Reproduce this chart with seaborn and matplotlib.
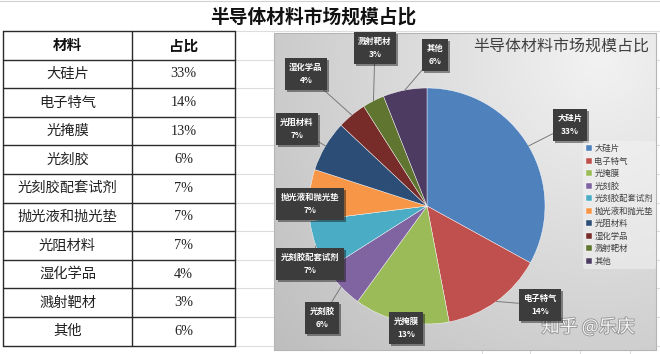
import numpy as np
import matplotlib
matplotlib.use("Agg")
import matplotlib.pyplot as plt
import matplotlib.patheffects as pe
import seaborn as sns

sns.set_theme(style="white")
plt.rcParams['font.family'] = ['Noto Sans CJK SC', 'DejaVu Sans']

# ---------------- data ----------------
title = "半导体材料市场规模占比"
headers = ["材料", "占比"]
materials = ["大硅片", "电子特气", "光掩膜", "光刻胶", "光刻胶配套试剂",
             "抛光液和抛光垫", "光阻材料", "湿化学品", "溅射靶材", "其他"]
shares = [33, 14, 13, 6, 7, 7, 7, 4, 3, 6]
share_labels = [f"{v}%" for v in shares]
watermark = "知乎 @乐庆"

# ---------------- styles / layout ----------------
colors = ["#4F81BD", "#C0504D", "#9BBB59", "#8064A2", "#4BACC6",
          "#F79646", "#2C4D75", "#772C2A", "#5F7530", "#4D3B62"]
# label box centres in pixel coordinates (x, y from top)
label_pos = [(570, 125), (540, 305), (406, 328), (322, 318), (310, 264),
             (310, 204), (297, 129), (306, 74), (375, 48), (435, 55)]

W, H = 660, 354
fig = plt.figure(figsize=(W / 100, H / 100), dpi=100)
fig.patch.set_facecolor("white")

ov = fig.add_axes([0, 0, 1, 1])
ov.set_xlim(0, W)
ov.set_ylim(H, 0)
ov.axis("off")

# faint spreadsheet grid
row_top, row_h = 31, 28.6
n_rows = len(materials) + 1
for i in range(n_rows + 1):
    y = row_top + i * row_h
    ov.plot([235, W], [y, y], color="#dcdcdc", lw=0.8, zorder=0)
for x in [482, 530, 580, 630]:
    ov.plot([x, x], [340, H], color="#dcdcdc", lw=0.8, zorder=0)
ov.plot([0, W], [1, 1], color="#d0d0d0", lw=0.8, zorder=0)

# page title
ov.text(313, 17, title, ha="center", va="center", fontsize=13.5,
        fontweight="bold", color="#111111")

# table
x_left, x_mid, x_right = 3, 132, 235
y_bot = row_top + n_rows * row_h
for i in range(n_rows + 1):
    y = row_top + i * row_h
    ov.plot([x_left, x_right], [y, y], color="#2a2a2a", lw=1.0, zorder=2)
for x in [x_left, x_mid, x_right]:
    ov.plot([x, x], [row_top, y_bot], color="#2a2a2a", lw=1.0, zorder=2)
ov.text((x_left + x_mid) / 2, row_top + row_h / 2, headers[0], ha="center",
        va="center", fontsize=10.5, fontweight="bold", color="#111111")
ov.text((x_mid + x_right) / 2, row_top + row_h / 2, headers[1], ha="center",
        va="center", fontsize=10.5, fontweight="bold", color="#111111")
for i, (m, s) in enumerate(zip(materials, share_labels)):
    yc = row_top + (i + 1.5) * row_h
    ov.text((x_left + x_mid) / 2, yc, m, ha="center", va="center",
            fontsize=10.3, color="#222222")
    ov.text((x_mid + x_right) / 2, yc, s, ha="center", va="center",
            fontsize=10.3, color="#222222", family=["Liberation Serif", "DejaVu Serif"])

# chart area background (radial grey gradient)
cx0, cx1, cy0, cy1 = 274, 656, 33, 350
gx, gy = np.meshgrid(np.linspace(cx0, cx1, 300), np.linspace(cy0, cy1, 250))
d = np.hypot(gx - 600, gy - 60)
val = np.clip(0.95 - 0.19 * d / 400, 0.74, 0.96)
ov.imshow(np.dstack([val, val, val]), extent=[cx0, cx1, cy1, cy0],
          aspect="auto", zorder=1, interpolation="bilinear")
ov.plot([cx0, cx1, cx1, cx0, cx0], [cy0, cy0, cy1, cy1, cy0],
        color="#b5b5b5", lw=0.8, zorder=1.5)
ov.set_xlim(0, W)
ov.set_ylim(H, 0)

ov.text(473, 46, title, ha="left", va="center", fontsize=11.5,
        color="#404040", zorder=3)

# pie
pcx, pcy, R = 427, 206, 118
axp = fig.add_axes([(pcx - R) / W, (H - pcy - R) / H, 2 * R / W, 2 * R / H])
axp.set_zorder(5)
axp.patch.set_alpha(0)
wedges, _ = axp.pie(shares, colors=colors, startangle=90, counterclock=False,
                    radius=1, wedgeprops=dict(edgecolor="#ffffff", linewidth=0.3))
axp.set_xlim(-1, 1)
axp.set_ylim(-1, 1)
axp.set_aspect("equal")
axp.axis("off")

for w, m, s, pos in zip(wedges, materials, share_labels, label_pos):
    ang = np.deg2rad((w.theta1 + w.theta2) / 2)
    xy = (np.cos(ang), np.sin(ang))
    ann = axp.annotate(f"{m}\n{s}", xy=xy, xytext=pos, textcoords=ov.transData,
                       ha="center", va="center", fontsize=6, fontweight="bold",
                       color="white", linespacing=1.7, annotation_clip=False,
                       bbox=dict(boxstyle="square,pad=0.55", fc="#3c3c3c", ec="none"),
                       arrowprops=dict(arrowstyle="-", color="#7a7a7a", lw=0.7,
                                       shrinkA=0, shrinkB=0))
    ann.get_bbox_patch().set_path_effects(
        [pe.SimplePatchShadow(offset=(1.5, -1.5), alpha=0.45), pe.Normal()])

leg = fig.legend(wedges, materials, loc="upper left",
                 bbox_to_anchor=(579 / W, 1 - 137 / H), fontsize=6,
                 handlelength=0.7, handleheight=0.7, handletextpad=0.3,
                 labelspacing=0.42, borderpad=0.35, frameon=True,
                 facecolor="#f4f4f4", edgecolor="none", framealpha=0.5)
for t in leg.get_texts():
    t.set_color("#404040")

# watermark
ov.text(588, 327, watermark, ha="center", va="center", fontsize=13,
        color="white", alpha=0.9, zorder=10,
        path_effects=[pe.withStroke(linewidth=1.2, foreground="#8a8a8a")])

fig.savefig("out.png", dpi=100)
